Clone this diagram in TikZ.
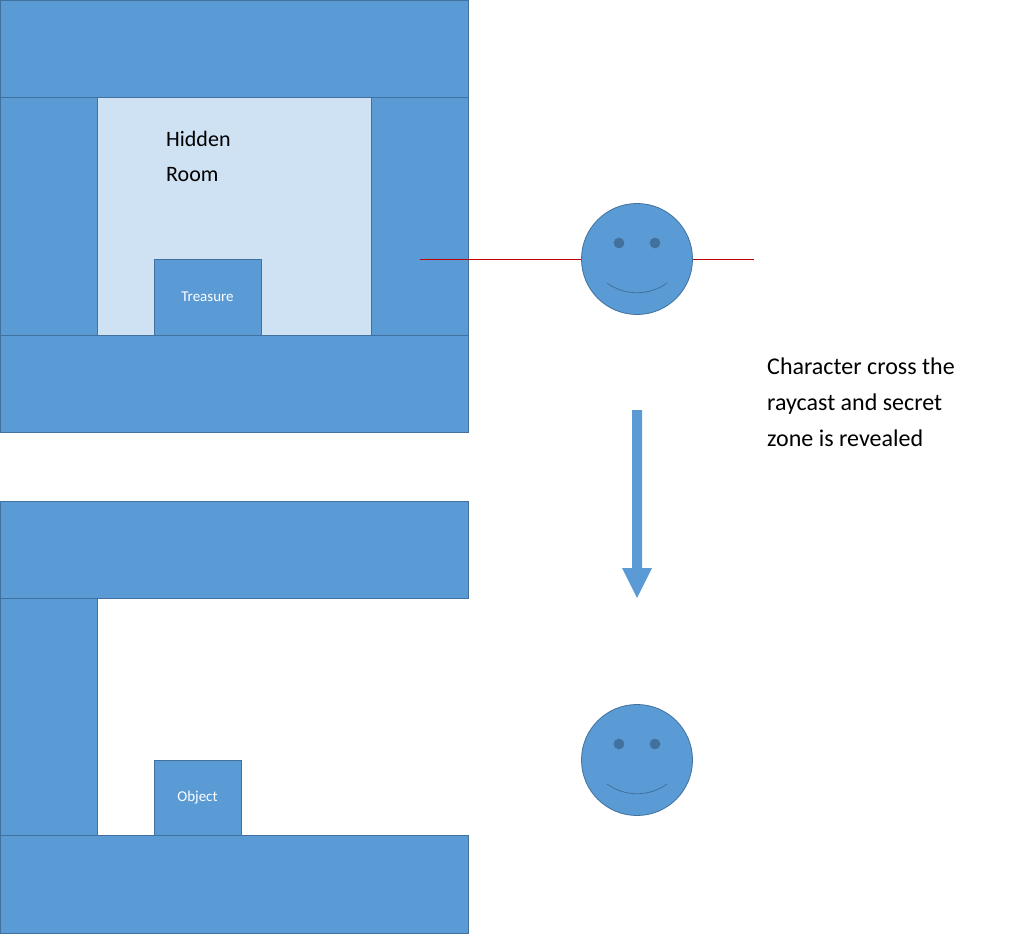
\documentclass[tikz,border=0pt]{standalone}
\usepackage{fontspec}
\setmainfont{Carlito}
\definecolor{wall}{HTML}{5B9BD5}
\definecolor{edge}{HTML}{41719C}
\definecolor{room}{HTML}{CFE2F3}
\begin{document}
\begin{tikzpicture}[x=1pt,y=-1pt,
  blk/.style={fill=wall,draw=edge,line width=0.8pt},
  lbl/.style={text=white,font=\fontsize{15}{18}\selectfont},
  eye/.style={fill=edge,draw=edge,line width=0.6pt}]
\useasboundingbox (0,0) rectangle (1023,934);
% top scene
\fill[room,draw=edge,line width=0.8pt] (97,97) rectangle (371,335);
\draw[blk] (0,0) rectangle (468,97);
\draw[blk] (0,97) rectangle (97,335);
\draw[blk] (371,97) rectangle (468,335);
\draw[blk] (0,335) rectangle (468,432);
\draw[blk] (154,259) rectangle (261,335);
\node[lbl] (treasure) at (207.5,297) {Treasure};
\node[anchor=north west,align=left,font=\fontsize{22}{35}\selectfont,inner sep=0] (hidden) at (166,131) {Hidden\\Room};
\coordinate (r1) at (420,259);
\coordinate (r2) at (754,259);
\draw[red!75!black,line width=0.6pt] (r1) -- (r2);
\node[blk,circle,minimum size=111pt,inner sep=0] (face1) at (637,259) {};
\fill[eye] (619,243) circle (5);
\fill[eye] (655,243) circle (5);
\draw[edge,line width=0.8pt] (607,283) .. controls (625,296) and (649,296) .. (667,283);
% text
\node[anchor=north west,align=left,font=\fontsize{24}{36}\selectfont,inner sep=0] (caption) at (767,358) {Character cross the\\raycast and secret\\zone is revealed};
% arrow
\coordinate (a1) at (637,410);
\coordinate (a2) at (637,598);
\fill[wall] (632,410) -- (642,410) -- (642,568) -- (652,568) -- (637,598) -- (622,568) -- (632,568) -- cycle;
% bottom scene
\draw[blk] (0,501) rectangle (468,598);
\draw[blk] (0,598) rectangle (97,835);
\draw[blk] (0,835) rectangle (468,933);
\draw[blk] (154,760) rectangle (241,835);
\node[lbl] (object) at (197.5,798) {Object};
\node[blk,circle,minimum size=111pt,inner sep=0] (face2) at (637,760) {};
\fill[eye] (619,744) circle (5);
\fill[eye] (655,744) circle (5);
\draw[edge,line width=0.8pt] (607,784) .. controls (625,797) and (649,797) .. (667,784);
\end{tikzpicture}
\end{document}
